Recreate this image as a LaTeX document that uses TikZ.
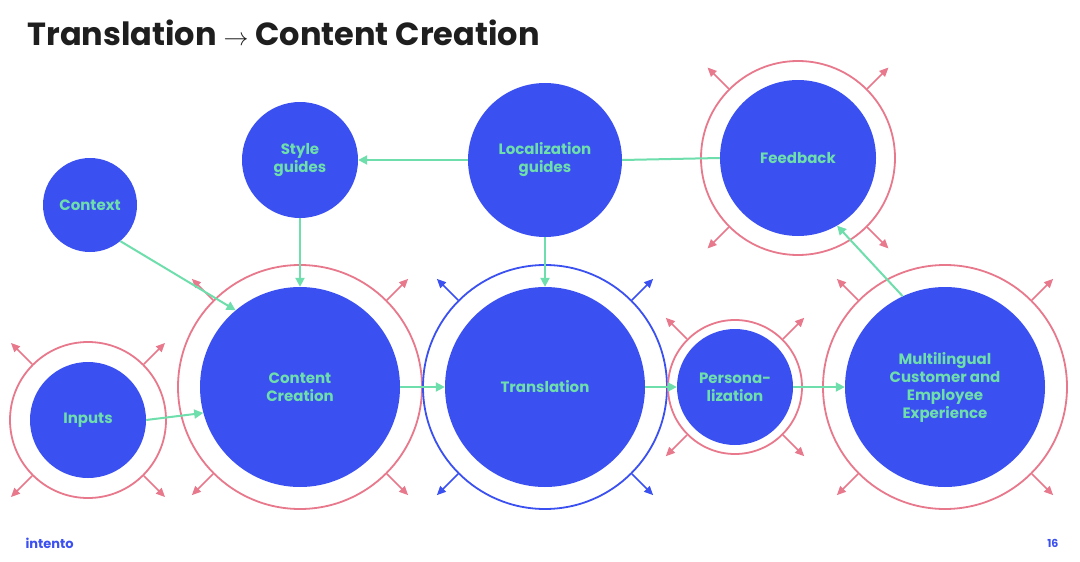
\documentclass[tikz,border=0pt]{standalone}
\usepackage{fontspec}
\setmainfont{Poppins}
\usetikzlibrary{arrows.meta}
\definecolor{cblue}{RGB}{59,80,240}
\definecolor{cpink}{RGB}{232,120,140}
\definecolor{cgreen}{RGB}{110,222,172}
\definecolor{ctext}{RGB}{30,30,30}
\begin{document}
\begin{tikzpicture}[x=1pt,y=-1pt,
  blob/.style={circle,fill=cblue,inner sep=0pt,text=cgreen,font=\bfseries\fontsize{15}{18}\selectfont,align=center},
  ring/.style={circle,draw=cpink,line width=1.8pt,inner sep=0pt},
  bring/.style={circle,draw=cblue,line width=1.8pt,inner sep=0pt},
  rarr/.style={line width=1.5pt,-{Triangle[length=9pt,width=8pt]}},
  flow/.style={draw=cgreen,line width=2pt,-{Triangle[length=9pt,width=9pt]}}]
\useasboundingbox (0,0) rectangle (1080,562);
\fill[white] (0,0) rectangle (1080,562);
\node[anchor=west,text=ctext,font=\bfseries\fontsize{32}{36}\selectfont] (title) at (24,33) {Translation $\rightarrow$ Content Creation};
\node[anchor=west,text=cblue,font=\bfseries\fontsize{13}{15}\selectfont] (logo) at (22,543) {intento};
\node[anchor=east,text=cblue,font=\bfseries\fontsize{11}{13}\selectfont] (page) at (1062,543) {16};
% rings
\node[ring,minimum size=156pt] (inr) at (88,420) {};
\node[ring,minimum size=244pt] (ccr) at (300,387) {};
\node[bring,minimum size=244pt] (trr) at (545,387) {};
\node[ring,minimum size=134pt] (per) at (735,387) {};
\node[ring,minimum size=244pt] (mur) at (945,387) {};
\node[ring,minimum size=194pt] (fbr) at (798,158) {};
\foreach \r in {inr,ccr,per,mur,fbr}{
  \foreach \a in {45,135,225,315}{
    \draw[rarr,cpink] (\r.\a) -- ++(-\a:30);}}
\foreach \a in {45,135,225,315}{\draw[rarr,cblue] (trr.\a) -- ++(-\a:30);}
% blobs
\node[blob,minimum size=94pt] (ctx) at (90,205) {Context};
\node[blob,minimum size=116pt] (sty) at (300,160) {Style\\guides};
\node[blob,minimum size=154pt] (loc) at (545,160) {Localization\\guides};
\node[blob,minimum size=156pt] (fb) at (798,158) {Feedback};
\node[blob,minimum size=116pt] (inp) at (88,420) {Inputs};
\node[blob,minimum size=200pt] (cc) at (300,387) {Content\\Creation};
\node[blob,minimum size=200pt] (tr) at (545,387) {Translation};
\node[blob,minimum size=116pt] (pz) at (735,387) {Persona-\\lization};
\node[blob,minimum size=200pt] (mu) at (945,387) {Multilingual\\Customer and\\Employee\\Experience};
% flows
\draw[flow] (loc.west) -- (sty.east);
\draw[draw=cgreen,line width=2pt] (fb.west) -- (loc.east);
\draw[flow] (sty.south) -- (cc.north);
\draw[flow] (loc.south) -- (tr.north);
\draw[flow] (ctx.-50) -- (cc.130);
\draw[flow] (inp.east) -- (cc.195);
\draw[flow] (cc.east) -- (tr.west);
\draw[flow] (tr.east) -- (pz.west);
\draw[flow] (pz.east) -- (mu.west);
\draw[flow] (mu.115) -- (fb.-60);
\end{tikzpicture}
\end{document}
